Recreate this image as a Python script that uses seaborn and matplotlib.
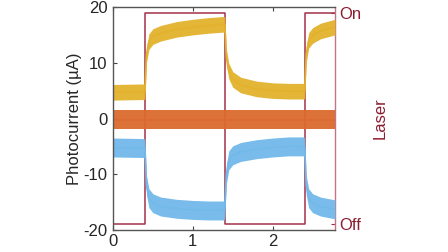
import matplotlib

matplotlib.use("Agg")
import matplotlib.pyplot as plt
import pandas as pd
import seaborn as sns

# time axis shared by the three photocurrent traces (s)
t = [0.0, 0.39, 0.40, 0.42, 0.45, 0.50, 0.60, 0.80, 1.00, 1.20, 1.39,
     1.40, 1.42, 1.45, 1.50, 1.60, 1.80, 2.00, 2.20, 2.39,
     2.40, 2.42, 2.45, 2.50, 2.60, 2.78]

# band centres (uA)
yellow_mid = [4.7, 4.8, 5.0, 11.5, 13.8, 14.7, 15.3, 16.0, 16.4, 16.7, 16.9,
              16.8, 11.0, 8.5, 7.0, 6.0, 5.3, 5.0, 4.9, 4.9,
              5.0, 11.5, 14.0, 14.9, 15.7, 16.4]
orange_mid = [-0.2] * len(t)
blue_mid = [-5.2, -5.3, -5.5, -12.0, -14.3, -15.2, -15.8, -16.2, -16.4, -16.5, -16.5,
            -16.0, -10.0, -7.5, -6.6, -6.0, -5.5, -5.2, -5.0, -5.0,
            -5.3, -12.0, -14.3, -15.2, -15.8, -16.3]

# noise half-width of each band (uA)
noise = {"yellow": 1.4, "orange": 1.7, "blue": 1.7}

# laser state
laser_t = [0.0, 0.40, 1.40, 2.40, 2.78]
laser_on = [0, 1, 0, 1, 1]

colors = {"yellow": "#e3b22c", "orange": "#dc6a2e", "blue": "#72b9ea"}
laser_color = "#a3304a"
text_red = "#8c1c2e"

sns.set_theme(style="white")
plt.rcParams["font.family"] = ["Liberation Sans", "DejaVu Sans"]
plt.rcParams["axes.unicode_minus"] = False

fs = 12
fig = plt.figure(figsize=(4.48, 2.52), dpi=100)
ax = fig.add_axes([0.2522, 0.0873, 0.4956, 0.8849])
ax2 = ax.twinx()

# laser on the twin axis, below the traces
laser = pd.DataFrame({"t": laser_t, "laser": laser_on})
sns.lineplot(data=laser, x="t", y="laser", ax=ax2, color=laser_color,
             lw=1.1, drawstyle="steps-post")
ax2.set_zorder(0)
ax.set_zorder(1)
ax.patch.set_visible(False)

df = pd.DataFrame({"t": t, "yellow": yellow_mid, "orange": orange_mid, "blue": blue_mid})
for name in ["yellow", "orange", "blue"]:
    ax.fill_between(df["t"], df[name] - noise[name], df[name] + noise[name],
                    color=colors[name], lw=0, alpha=0.95)
    sns.lineplot(data=df, x="t", y=name, ax=ax, color=colors[name], lw=1.2)

ax.set_xlim(0, 2.78)
ax.set_ylim(-20, 20)
ax.set_xticks([0, 1, 2])
ax.set_yticks([-20, -10, 0, 10, 20])
ax.set_xlabel("")
ax.set_ylabel("Photocurrent (\u00b5A)", fontsize=fs, labelpad=1)
ax.tick_params(axis="both", direction="in", length=3, width=0.8, color="#444444",
               labelsize=fs, pad=4, top=True, left=True, bottom=True, right=False)
ax.tick_params(axis="x", pad=3)
for side in ["left", "top", "bottom"]:
    ax.spines[side].set_color("#555555")
    ax.spines[side].set_linewidth(1.0)
ax.spines["right"].set_visible(False)

span = 1 / 0.945
ax2.set_ylim(-0.0275 * span, -0.0275 * span + span)
ax2.set_yticks([0, 1])
ax2.set_yticklabels(["Off", "On"], color=text_red, fontsize=fs)
ax2.set_ylabel("Laser", color=text_red, fontsize=fs, labelpad=8)
ax2.set_xlabel("")
ax2.tick_params(axis="y", direction="in", length=3, width=0.8, color=laser_color, pad=3)
for side in ["left", "top", "bottom"]:
    ax2.spines[side].set_visible(False)
ax2.spines["right"].set_color("#c27585")
ax2.spines["right"].set_linewidth(1.0)

fig.savefig("out.png", dpi=100)
